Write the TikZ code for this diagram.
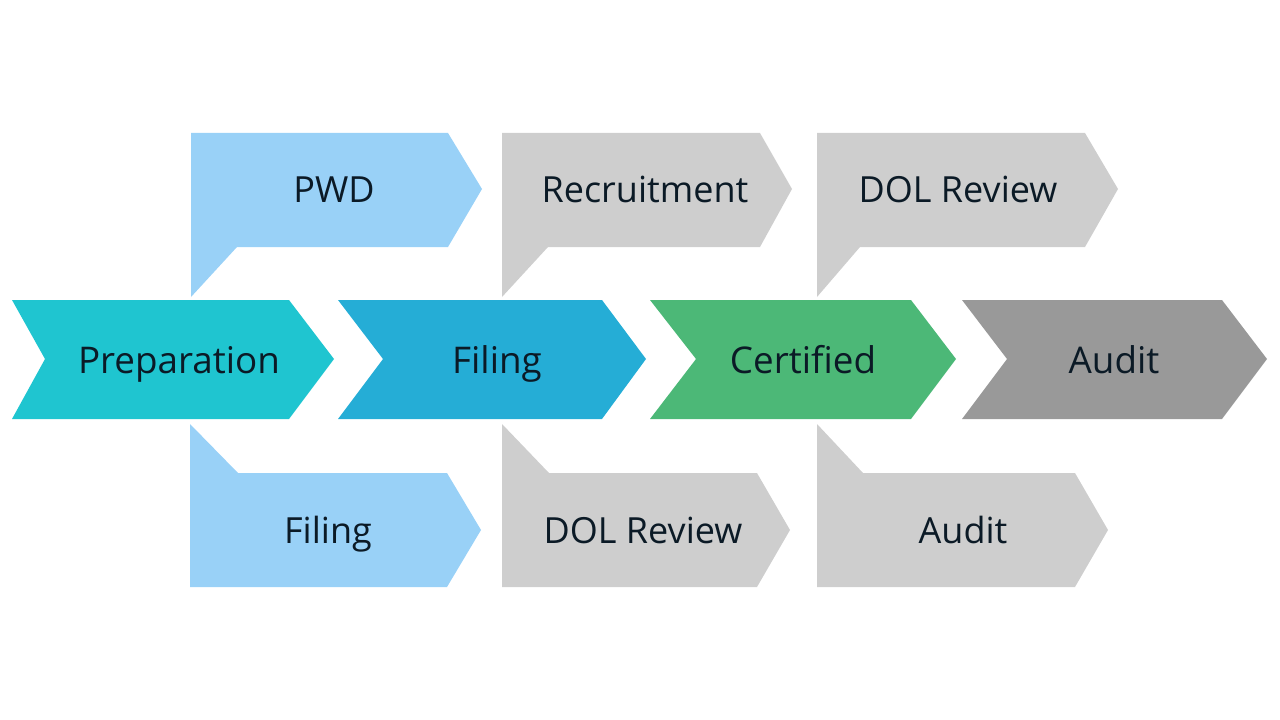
\documentclass[tikz,border=0pt]{standalone}
\usepackage{fontspec}
\setmainfont{Open Sans}
\definecolor{tealband}{HTML}{1FC5D0}
\definecolor{blueband}{HTML}{25ADD6}
\definecolor{greenband}{HTML}{4CB877}
\definecolor{greyband}{HTML}{999999}
\definecolor{activebox}{HTML}{99D1F7}
\definecolor{waitbox}{HTML}{CECECE}
\definecolor{labelink}{HTML}{0B1A26}
\tikzset{
	step label/.style={text=labelink, font=\fontsize{27.6}{32}\selectfont, inner sep=0pt, anchor=base},
	sub label/.style={text=labelink, font=\fontsize{27}{32}\selectfont, inner sep=0pt, anchor=base},
}

\begin{document}
\begin{tikzpicture}[x=0.75pt, y=-0.75pt]
	\useasboundingbox (0,0) rectangle (1280,720);

	% main row
	\fill[tealband] (12,300) -- (289,300) -- (334,359) -- (289,419) -- (12,419) -- (45,359) -- cycle;
	\fill[blueband] (338,300) -- (602,300) -- (646,359) -- (602,419) -- (338,419) -- (383,359) -- cycle;
	\fill[greenband] (650,300) -- (911,300) -- (956,359) -- (911,419) -- (650,419) -- (696,359) -- cycle;
	\fill[greyband] (962,300) -- (1222,300) -- (1267,359) -- (1222,419) -- (962,419) -- (1007,359) -- cycle;

	% upper row
	\fill[activebox] (191,133) -- (448,133) -- (482,189) -- (448,247) -- (237,247) -- (191,297) -- cycle;
	\fill[waitbox] (502,133) -- (760,133) -- (792,189) -- (760,247) -- (548,247) -- (502,297) -- cycle;
	\fill[waitbox] (817,133) -- (1085,133) -- (1118,189) -- (1085,247) -- (860,247) -- (817,297) -- cycle;

	% lower row
	\fill[activebox] (190,424) -- (238,473) -- (447,473) -- (481,530) -- (447,587) -- (190,587) -- cycle;
	\fill[waitbox] (502,424) -- (549,473) -- (757,473) -- (790,530) -- (757,587) -- (502,587) -- cycle;
	\fill[waitbox] (817,424) -- (863,473) -- (1075,473) -- (1108,530) -- (1075,587) -- (817,587) -- cycle;

	\node[step label] (preparation)	at (179,373) {Preparation};
	\node[step label] (filing)		at (497,373) {Filing};
	\node[step label] (certified)	at (803,373) {Certified};
	\node[step label] (audit)		at (1114,373) {Audit};

	\node[sub label] (pwd)			at (334,203) {PWD};
	\node[sub label] (recruitment)	at (645,203) {Recruitment};
	\node[sub label] (review-up)	at (958,203) {DOL Review};

	\node[sub label] (filing-low)	at (328,543) {Filing};
	\node[sub label] (review-low)	at (643,543) {DOL Review};
	\node[sub label] (audit-low)	at (963,543) {Audit};
\end{tikzpicture}
\end{document}
